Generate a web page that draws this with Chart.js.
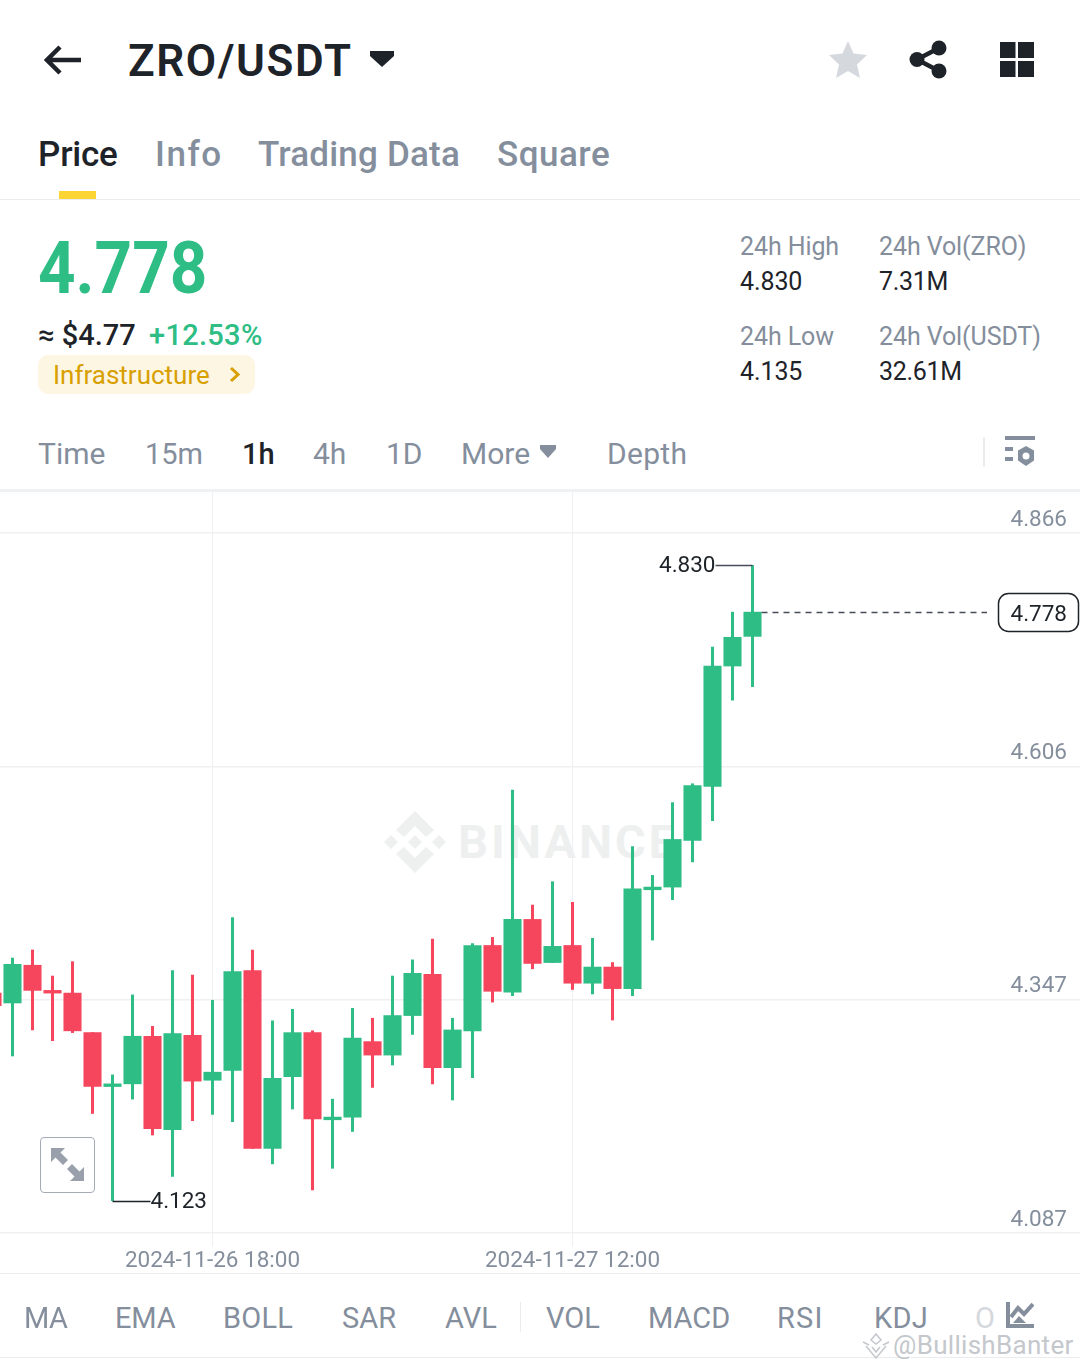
<!DOCTYPE html>
<html>
<head>
<meta charset="utf-8">
<title>ZRO/USDT</title>
<script src="https://cdn.jsdelivr.net/npm/chart.js@4"></script>
<style>
    html, body { margin: 0; padding: 0; background: #fff; }
    body { position: relative; width: 1080px; height: 1367px; overflow: hidden; font-family: Roboto, sans-serif; color: #1E2329; }
    .t { position: absolute; white-space: nowrap; line-height: 40px; height: 40px; }
    .g { color: #848E9C; }
    .hr { position: absolute; left: 0; width: 1080px; height: 1px; background: #EAECEF; }
    .s { font-size: 25px; letter-spacing: -.1px; }
    svg { position: absolute; }
    #chartWrap { position: absolute; left: 0; top: 491px; width: 1080px; height: 782px; }
</style>
</head>
<body>
<!-- top bar -->
<svg style="left:44px;top:44px" width="38" height="32" viewBox="0 0 38 32"><path d="M16 3 L3 16 L16 29 M3 16 H37" fill="none" stroke="#1E2329" stroke-width="4.5"/></svg>
<span class="t" style="left:128px;top:41px;font-size:44px;font-weight:600;letter-spacing:1.6px">ZRO/USDT</span>
<svg style="left:370px;top:50px" width="24" height="18" viewBox="0 0 24 18"><path d="M0 1 H24 V6 L12 17 L0 6 Z" fill="#1E2329"/></svg>
<svg style="left:828px;top:40px" width="40" height="40" viewBox="0 0 40 40"><path d="M20 1 L25.5 13.5 L39 15 L29 24.5 L32 38 L20 31 L8 38 L11 24.5 L1 15 L14.5 13.5 Z" fill="#D5D8DC"/></svg>
<svg style="left:909px;top:40px" width="38" height="39" viewBox="0 0 38 39"><path d="M30 8 L8 19.5 L30 31" fill="none" stroke="#1E2329" stroke-width="4.5"/><circle cx="30" cy="8" r="7.5" fill="#1E2329"/><circle cx="8" cy="19.5" r="7.5" fill="#1E2329"/><circle cx="30" cy="31" r="7.5" fill="#1E2329"/></svg>
<svg style="left:1000px;top:42px" width="34" height="35" viewBox="0 0 34 35"><g fill="#1E2329"><rect width="15.5" height="16"/><rect x="18" width="16" height="16"/><rect y="19" width="15.5" height="16"/><rect x="18" y="19" width="16" height="16"/></g></svg>

<!-- tabs -->
<span class="t" style="left:38px;top:135px;font-size:35px;font-weight:500;letter-spacing:-.2px">Price</span>
<span class="t g" style="left:155px;top:135px;font-size:35px;font-weight:500;letter-spacing:1.5px">Info</span>
<span class="t g" style="left:258px;top:135px;font-size:35px;font-weight:500;letter-spacing:.2px">Trading Data</span>
<span class="t g" style="left:497px;top:135px;font-size:35px;font-weight:500;letter-spacing:.5px">Square</span>
<div style="position:absolute;left:59px;top:191px;width:37px;height:8px;background:#FCD535"></div>
<div class="hr" style="top:199px"></div>

<!-- price block -->
<span class="t" style="left:38px;top:249px;font-size:72px;font-weight:700;color:#2EBD85;transform:scaleX(.91);transform-origin:left">4.778</span>
<span class="t" style="left:38px;top:315px;font-size:29px;font-weight:500">≈ $4.77</span>
<span class="t" style="left:149px;top:315px;font-size:29px;font-weight:500;color:#2EBD85;letter-spacing:.3px">+12.53%</span>
<div style="position:absolute;left:38px;top:355px;width:217px;height:39px;background:#FDF6E3;border-radius:10px"></div>
<span class="t" style="left:53px;top:355px;font-size:26px;color:#D89F00">Infrastructure</span>
<svg style="left:229px;top:366px" width="12" height="17" viewBox="0 0 12 17"><path d="M2 2 L9 8.5 L2 15" fill="none" stroke="#D89F00" stroke-width="3"/></svg>
<span class="t g s" style="left:740px;top:227px">24h High</span>
<span class="t s" style="left:740px;top:262px">4.830</span>
<span class="t g s" style="left:879px;top:227px">24h Vol(ZRO)</span>
<span class="t s" style="left:879px;top:262px;letter-spacing:-.3px">7.31M</span>
<span class="t g s" style="left:740px;top:317px">24h Low</span>
<span class="t s" style="left:740px;top:352px">4.135</span>
<span class="t g s" style="left:879px;top:317px">24h Vol(USDT)</span>
<span class="t s" style="left:879px;top:352px;letter-spacing:-.3px">32.61M</span>

<!-- intervals -->
<span class="t g" style="left:38px;top:434px;font-size:30px">Time</span>
<span class="t g" style="left:145px;top:434px;font-size:29px">15m</span>
<span class="t" style="left:242px;top:434px;font-size:29px;font-weight:500">1h</span>
<span class="t g" style="left:313px;top:434px;font-size:30px">4h</span>
<span class="t g" style="left:386px;top:434px;font-size:30px">1D</span>
<span class="t g" style="left:461px;top:434px;font-size:30px">More</span>
<svg style="left:540px;top:445px" width="16" height="13" viewBox="0 0 16 13"><path d="M0 0 H16 V4 L8 13 L0 4 Z" fill="#848E9C"/></svg>
<span class="t g" style="left:607px;top:434px;font-size:30px;letter-spacing:.3px">Depth</span>
<div style="position:absolute;left:983px;top:437px;width:2px;height:30px;background:#EAECEF"></div>
<svg style="left:1005px;top:436px" width="30" height="31" viewBox="0 0 30 31"><g fill="#848E9C"><rect width="30" height="4"/><rect y="11" width="8" height="4"/><rect y="21" width="8" height="4"/><path d="M21 10 L29 14.5 V24.5 L21 30 L13 24.5 V14.5 Z"/></g><circle cx="21" cy="20" r="3.5" fill="#fff"/></svg>
<div style="position:absolute;left:0;top:489px;width:1080px;height:3px;background:#F0F1F2"></div>

<!-- watermark under the chart -->
<svg style="left:384px;top:811px" width="62" height="62" viewBox="0 0 62 62"><g fill="#EEF0F0"><path d="M31 0 L50 19 L42 26 L31 15 L20 26 L12 19 Z"/><path d="M31 62 L50 43 L42 36 L31 47 L20 36 L12 43 Z"/><path d="M0 31 L7 24 L14 31 L7 38 Z"/><path d="M62 31 L55 24 L48 31 L55 38 Z"/><path d="M31 24 L38 31 L31 38 L24 31 Z"/></g></svg>
<span class="t" style="left:458px;top:822px;font-size:47px;font-weight:700;color:#EEF0F0;letter-spacing:3px">BINANCE</span>

<div id="chartWrap"><canvas id="klineChart" width="1080" height="782"></canvas></div>

<!-- expand button -->
<div style="position:absolute;left:40px;top:1137px;width:53px;height:54px;border:1.5px solid #A5ABB6;border-radius:4px;background:#fff"></div>
<svg style="left:51px;top:1148px" width="33" height="33" viewBox="0 0 33 33"><g fill="#9AA0AB"><path d="M0 0 H14 L9.5 4.5 L17 12 L12 17 L4.5 9.5 L0 14 Z"/><path d="M33 33 H19 L23.5 28.5 L16 21 L21 16 L28.5 23.5 L33 19 Z"/></g></svg>

<div class="hr" style="top:1273px"></div>

<!-- indicators -->
<span class="t g" style="left:24px;top:1298px;font-size:29px;letter-spacing:-.5px">MA</span>
<span class="t g" style="left:115px;top:1298px;font-size:29px;letter-spacing:-.2px">EMA</span>
<span class="t g" style="left:223px;top:1298px;font-size:29px;letter-spacing:.2px">BOLL</span>
<span class="t g" style="left:342px;top:1298px;font-size:29px">SAR</span>
<span class="t g" style="left:445px;top:1298px;font-size:29px">AVL</span>
<div style="position:absolute;left:520px;top:1302px;width:1px;height:30px;background:#EAECEF"></div>
<span class="t g" style="left:546px;top:1298px;font-size:29px">VOL</span>
<span class="t g" style="left:648px;top:1298px;font-size:29px">MACD</span>
<span class="t g" style="left:777px;top:1298px;font-size:29px;letter-spacing:1.2px">RSI</span>
<span class="t g" style="left:874px;top:1298px;font-size:29px;letter-spacing:.2px">KDJ</span>
<span class="t" style="left:975px;top:1298px;font-size:29px;color:#D5D8DD">O</span>
<svg style="left:1006px;top:1302px" width="28" height="27" viewBox="0 0 28 27"><path d="M2 0 V24 H28" fill="none" stroke="#848E9C" stroke-width="4"/><path d="M5 15 L12 6 L18 12 L27 2" fill="none" stroke="#848E9C" stroke-width="4"/><path d="M7 21 L13 14 L18 19 L20 21 Z" fill="#848E9C"/></svg>
<div class="hr" style="top:1357px"></div>
<svg style="left:862px;top:1333px" width="28" height="26" viewBox="0 0 28 26"><path d="M1 9 L7 12 M14 1 L9 7 L14 11 L19 7 Z M27 9 L21 12 M4 13 L14 25 L24 13 M10 14 L14 19 L18 14" fill="none" stroke="#C4C7CC" stroke-width="1.5"/></svg>
<span class="t" style="left:893px;top:1325px;font-size:26px;color:#C4C7CC;letter-spacing:.3px">@BullishBanter</span>

<script>
// 1h candles, hour 10 = 2024-11-26 18:00
const opens = [4.354, 4.343, 4.385, 4.357, 4.354, 4.310, 4.250, 4.253, 4.306, 4.202, 4.307, 4.257, 4.268, 4.379, 4.181, 4.261, 4.310, 4.213, 4.216, 4.300, 4.285, 4.329, 4.375, 4.271, 4.312, 4.407, 4.355, 4.436, 4.388, 4.407, 4.365, 4.383, 4.359, 4.469, 4.472, 4.524, 4.584, 4.718, 4.751];
const closes = [4.340, 4.386, 4.357, 4.354, 4.312, 4.250, 4.253, 4.306, 4.203, 4.309, 4.256, 4.266, 4.378, 4.181, 4.259, 4.310, 4.214, 4.216, 4.304, 4.285, 4.329, 4.376, 4.271, 4.313, 4.407, 4.356, 4.436, 4.387, 4.406, 4.365, 4.383, 4.359, 4.470, 4.472, 4.525, 4.585, 4.718, 4.750, 4.778];
const highs = [4.354, 4.393, 4.402, 4.373, 4.389, 4.310, 4.263, 4.352, 4.317, 4.379, 4.374, 4.346, 4.438, 4.402, 4.323, 4.336, 4.312, 4.236, 4.337, 4.326, 4.373, 4.391, 4.414, 4.326, 4.409, 4.416, 4.580, 4.452, 4.478, 4.455, 4.415, 4.388, 4.517, 4.485, 4.566, 4.587, 4.739, 4.778, 4.830];
const lows = [4.340, 4.284, 4.313, 4.301, 4.310, 4.220, 4.123, 4.236, 4.196, 4.150, 4.212, 4.219, 4.211, 4.181, 4.164, 4.225, 4.135, 4.159, 4.200, 4.249, 4.274, 4.308, 4.253, 4.235, 4.260, 4.344, 4.351, 4.381, 4.388, 4.358, 4.353, 4.324, 4.351, 4.413, 4.458, 4.500, 4.546, 4.680, 4.695];
const hours = opens.map((_, i) => i - 1);

const yTicks = [4.087, 4.347, 4.606, 4.866];
const xTickHours = [10, 28];
const xTickLabels = ['2024-11-26 18:00', '2024-11-27 12:00'];

const lastPrice = 4.778;
const highMark = { hour: 37, price: 4.830, label: '4.830' };
const lowMark = { hour: 5, price: 4.123, label: '4.123' };

const UP = '#2EBD85';
const DOWN = '#F6465D';
const candleColors = opens.map((o, i) => closes[i] >= o ? UP : DOWN);

// last price line, pill and the high / low leaders
const priceMarks = {
    id: 'priceMarks',
    afterDatasetsDraw(chart) {
        const { ctx, scales: { x, y } } = chart;
        const lastY = Math.round(y.getPixelForValue(lastPrice)) + 0.5;
        ctx.save();
        ctx.strokeStyle = '#474D57';
        ctx.lineWidth = 1.5;
        ctx.setLineDash([6, 5]);
        ctx.beginPath();
        ctx.moveTo(x.getPixelForValue(37) + 9, lastY);
        ctx.lineTo(987, lastY);
        ctx.stroke();
        ctx.setLineDash([]);

        ctx.fillStyle = '#fff';
        ctx.strokeStyle = '#1E2329';
        ctx.lineWidth = 1.5;
        ctx.beginPath();
        ctx.roundRect(998.5, lastY - 19, 80, 38, 10);
        ctx.fill();
        ctx.stroke();

        ctx.font = '22.5px Roboto';
        ctx.fillStyle = '#1E2329';
        ctx.textBaseline = 'middle';
        ctx.textAlign = 'right';
        ctx.fillText(lastPrice.toFixed(3), 1067, lastY + 3);

        ctx.lineWidth = 1.5;
        ctx.strokeStyle = '#474D57';
        const hx = x.getPixelForValue(highMark.hour);
        const hy = Math.round(y.getPixelForValue(highMark.price)) + 0.5;
        ctx.beginPath();
        ctx.moveTo(hx, hy);
        ctx.lineTo(hx - 37, hy);
        ctx.stroke();
        ctx.fillText(highMark.label, hx - 37, hy + 1);

        const lx = x.getPixelForValue(lowMark.hour);
        const ly = Math.round(y.getPixelForValue(lowMark.price)) + 0.5;
        ctx.strokeStyle = '#1E2329';
        ctx.beginPath();
        ctx.moveTo(lx, ly);
        ctx.lineTo(lx + 38, ly);
        ctx.stroke();
        ctx.textAlign = 'left';
        ctx.fillText(lowMark.label, lx + 38, ly + 1);
        ctx.restore();
    }
};

new Chart(document.getElementById('klineChart'), {
    type: 'bar',
    data: {
        datasets: [{
            label: 'Wick',
            data: hours.map((h, i) => ({ x: h, y: [lows[i], highs[i]] })),
            backgroundColor: candleColors,
            barThickness: 2.4,
            grouped: false,
            order: 2
        }, {
            label: 'Body',
            data: hours.map((h, i) => ({ x: h, y: [opens[i], closes[i]] })),
            backgroundColor: candleColors,
            barThickness: 17.4,
            grouped: false,
            order: 1
        }]
    },
    options: {
        responsive: false,
        animation: false,
        layout: { padding: 0 },
        plugins: { legend: { display: false }, tooltip: { enabled: false } },
        scales: {
            x: {
                type: 'linear',
                offset: false,
                min: -0.625,
                max: 53.375,
                grid: { offset: false, color: '#EEF0F2', lineWidth: 1, tickLength: 14, drawTicks: true },
                border: { display: false },
                afterBuildTicks: scale => { scale.ticks = xTickHours.map(value => ({ value })); },
                afterFit: scale => {
                    scale.height = 40;
                    scale.paddingLeft = 0;
                    scale.paddingRight = 0;
                },
                ticks: {
                    autoSkip: false,
                    maxRotation: 0,
                    padding: 1,
                    color: '#848E9C',
                    font: { family: 'Roboto', size: 22.5 },
                    callback: value => xTickLabels[xTickHours.indexOf(value)]
                }
            },
            y: {
                position: 'right',
                min: 4.087,
                max: 4.9128,
                grid: { color: '#EEF0F2', lineWidth: 1.5, drawTicks: false },
                border: { display: false },
                afterBuildTicks: scale => { scale.ticks = yTicks.map(value => ({ value })); },
                afterFit: scale => {
                    scale.width = 0;
                    scale.paddingTop = 0;
                    scale.paddingBottom = 0;
                },
                ticks: {
                    mirror: true,
                    padding: -13,
                    labelOffset: -13,
                    color: '#848E9C',
                    font: { family: 'Roboto', size: 22.5 },
                    callback: value => value.toFixed(3)
                }
            }
        }
    },
    plugins: [priceMarks]
});
</script>
</body>
</html>
